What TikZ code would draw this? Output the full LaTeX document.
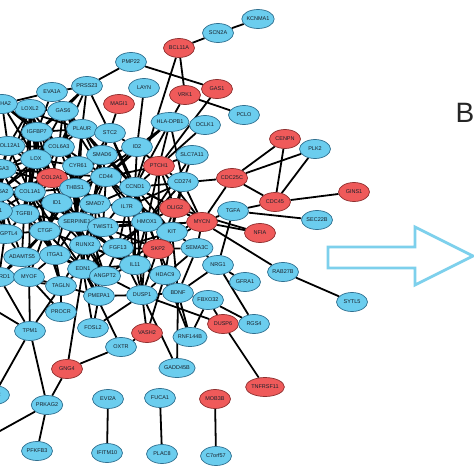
\documentclass[tikz,border=0pt]{standalone}
\usepackage{fontspec}
\setmainfont{Liberation Sans}
\usetikzlibrary{shapes.geometric,backgrounds}
\definecolor{nblue}{HTML}{6BCDEE}
\definecolor{nbord}{HTML}{2F6F8F}
\definecolor{nred}{HTML}{EF5A5A}
\definecolor{rbord}{HTML}{8E2F2F}
\definecolor{ntext}{HTML}{18202A}
\definecolor{arrowc}{HTML}{7DD0EC}
\begin{document}
\begin{tikzpicture}[x=1pt,y=-1pt,
  gene/.style={ellipse,draw=nbord,line width=0.7pt,fill=nblue,minimum width=31pt,minimum height=19pt,inner sep=0pt,font=\fontsize{5.5}{6}\selectfont,text=ntext},
  rgene/.style={gene,fill=nred,draw=rbord},
  link/.style={line width=1.8pt,black}]
\useasboundingbox (0,0) rectangle (474,474);
\clip (0,0) rectangle (474,474);
% nodes
\node[gene] (PMP22) at (131,62) {PMP22};
\node[gene] (LAYN) at (144,88) {LAYN};
\node[rgene] (MAGI1) at (119,104) {MAGI1};
\node[gene] (PRSS23) at (87,86) {PRSS23};
\node[gene] (EVA1A) at (52,92) {EVA1A};
\node[gene] (GAS6) at (63,111) {GAS6};
\node[gene] (LOXL2) at (30,109) {LOXL2};
\node[gene] (EPHA2) at (2,104) {EPHA2};
\node[gene] (KCNMA1) at (258,19) {KCNMA1};
\node[gene] (SCN2A) at (218,33) {SCN2A};
\node[rgene] (BCL11A) at (179,48) {BCL11A};
\node[rgene] (VRK1) at (185,95) {VRK1};
\node[rgene] (GAS1) at (217,89) {GAS1};
\node[gene] (PCLO) at (244,115) {PCLO};
\node[gene] (HLADPB1) at (170,122) {HLA-DPB1};
\node[gene] (DCLK1) at (205,125) {DCLK1};
\node[rgene] (CENPN) at (285,139) {CENPN};
\node[gene] (PLK2) at (315,149) {PLK2};
\node[gene] (SLC7A11) at (192,155) {SLC7A11};
\node[gene] (IGFBP7) at (37,132) {IGFBP7};
\node[gene] (PLAUR) at (82,129) {PLAUR};
\node[gene] (STC2) at (110,133) {STC2};
\node[gene] (ID2) at (137,147) {ID2};
\node[gene] (COL12A1) at (8,146) {COL12A1};
\node[gene] (COL6A3) at (59,147) {COL6A3};
\node[gene] (SMAD6) at (102,155) {SMAD6};
\node[gene] (LOX) at (36,159) {LOX};
\node[gene] (ITGA3) at (1,169) {ITGA3};
\node[gene] (CYR61) at (78,166) {CYR61};
\node[rgene] (COL2A1) at (52,178) {COL2A1};
\node[gene] (CD44) at (106,177) {CD44};
\node[gene] (CCND1) at (135,187) {CCND1};
\node[rgene] (PTCH1) at (159,166) {PTCH1};
\node[gene] (CD274) at (183,182) {CD274};
\node[rgene] (CDC25C) at (232,178) {CDC25C};
\node[rgene] (CDC45) at (275,202) {CDC45};
\node[gene] (COL5A2) at (-2,192) {COL5A2};
\node[gene] (COL1A1) at (30,192) {COL1A1};
\node[gene] (THBS1) at (75,188) {THBS1};
\node[gene] (ID1) at (57,203) {ID1};
\node[gene] (SMAD7) at (95,204) {SMAD7};
\node[gene] (IL7R) at (127,207) {IL7R};
\node[rgene] (OLIG2) at (175,208) {OLIG2};
\node[gene] (TGFA) at (233,211) {TGFA};
\node[gene] (SEC22B) at (317,220) {SEC22B};
\node[rgene] (GINS1) at (354,192) {GINS1};
\node[rgene] (MYCN) at (202,222) {MYCN};
\node[rgene] (NFIA) at (260,233) {NFIA};
\node[gene] (TGFBI) at (24,214) {TGFBI};
\node[gene] (FN1) at (-3,211) {FN1};
\node[gene] (SERPINE1) at (77,222) {SERPINE1};
\node[gene] (TWIST1) at (103,227) {TWIST1};
\node[gene] (HMOX1) at (147,222) {HMOX1};
\node[gene] (KIT) at (172,232) {KIT};
\node[gene] (ANGPTL4) at (5,234) {ANGPTL4};
\node[gene] (CTGF) at (45,231) {CTGF};
\node[gene] (RUNX2) at (85,245) {RUNX2};
\node[gene] (FGF13) at (118,248) {FGF13};
\node[rgene] (SKP2) at (158,249) {SKP2};
\node[gene] (SEMA3C) at (197,248) {SEMA3C};
\node[gene] (ADAMTS5) at (22,257) {ADAMTS5};
\node[gene] (ITGA1) at (55,255) {ITGA1};
\node[gene] (EDN1) at (83,269) {EDN1};
\node[gene] (IL11) at (135,265) {IL11};
\node[gene] (HDAC9) at (165,275) {HDAC9};
\node[gene] (NRG1) at (218,265) {NRG1};
\node[gene] (RAB27B) at (283,272) {RAB27B};
\node[gene] (GFRA1) at (245,282) {GFRA1};
\node[gene] (ANGPT2) at (105,276) {ANGPT2};
\node[gene] (ANKRD1) at (-1,277) {ANKRD1};
\node[gene] (MYOF) at (29,277) {MYOF};
\node[gene] (TAGLN) at (61,286) {TAGLN};
\node[gene] (PMEPA1) at (99,296) {PMEPA1};
\node[gene] (DUSP1) at (142,295) {DUSP1};
\node[gene] (BDNF) at (178,293) {BDNF};
\node[gene] (FBXO32) at (208,300) {FBXO32};
\node[gene] (SYTL5) at (352,302) {SYTL5};
\node[gene] (PROCR) at (61,312) {PROCR};
\node[gene] (TPM1) at (30,331) {TPM1};
\node[gene] (FOSL2) at (93,328) {FOSL2};
\node[rgene] (VASH2) at (147,333) {VASH2};
\node[gene] (OXTR) at (121,347) {OXTR};
\node[rgene] (DUSP6) at (223,324) {DUSP6};
\node[gene] (RGS4) at (254,324) {RGS4};
\node[gene] (RNF144B) at (190,337) {RNF144B};
\node[gene] (GADD45B) at (177,368) {GADD45B};
\node[rgene] (GNG4) at (67,369) {GNG4};
\node[rgene] (TNFRSF11) at (265,387) {TNFRSF11};
\node[gene] (FHL2) at (-6,395) {FHL2};
\node[gene] (PRKAG2) at (47,405) {PRKAG2};
\node[gene] (EVI2A) at (108,399) {EVI2A};
\node[gene] (FUCA1) at (160,398) {FUCA1};
\node[rgene] (MOB3B) at (215,399) {MOB3B};
\node[gene] (PFKFB3) at (37,451) {PFKFB3};
\node[gene] (IFITM10) at (107,453) {IFITM10};
\node[gene] (PLAC8) at (162,454) {PLAC8};
\node[gene] (C7orf57) at (216,456) {C7orf57};
\coordinate (offA) at (-20,442);
\coordinate (offB) at (-25,298);
% label and arrow
\node[font=\fontsize{28}{30}\selectfont,text=black!85] (Blabel) at (465,113) {B};
\draw[arrowc,line width=2.8pt,fill=white] (328,247) -- (415,247) -- (415,227) -- (473,256) -- (415,285) -- (415,268) -- (328,268) -- cycle;
% edges
\begin{scope}[on background layer]
\clip (0,0) rectangle (474,474);
\fill[white] (0,0) rectangle (474,474);
\foreach \a/\b in {KCNMA1/SCN2A, SCN2A/BCL11A, BCL11A/VRK1, BCL11A/CCND1, PMP22/GAS1, PMP22/PRSS23, VRK1/PCLO, VRK1/HLADPB1, GAS1/PTCH1, DCLK1/PTCH1, HLADPB1/CD274, HLADPB1/CD44, HLADPB1/PTCH1, LAYN/ID2, MAGI1/SMAD6, CENPN/CDC25C, CENPN/CDC45, PLK2/CDC25C, PLK2/CDC45, CDC25C/CDC45, CDC25C/CCND1, CDC25C/MYCN, CDC45/GINS1, CDC45/TGFA, TGFA/SEC22B, TGFA/MYCN, TGFA/NRG1, MYCN/NFIA, OLIG2/NFIA, MYCN/RAB27B, RAB27B/SYTL5, NRG1/GFRA1, NRG1/RGS4, NRG1/SEMA3C, NRG1/BDNF, FBXO32/RGS4, FBXO32/RNF144B, FBXO32/DUSP6, BDNF/RNF144B, BDNF/GADD45B, DUSP1/GADD45B, DUSP6/TNFRSF11, DUSP1/DUSP6, VASH2/OXTR, VASH2/DUSP1, VASH2/HDAC9, OXTR/GNG4, OXTR/EDN1, FOSL2/DUSP1, FOSL2/PMEPA1, GNG4/EDN1, GNG4/PRKAG2, PRKAG2/TPM1, PRKAG2/PFKFB3, PRKAG2/offA, TPM1/FHL2, TPM1/TAGLN, TPM1/MYOF, TPM1/ANKRD1, TPM1/offB, EVI2A/IFITM10, FUCA1/PLAC8, MOB3B/C7orf57, SLC7A11/CD274, SLC7A11/HMOX1,
EPHA2/LOXL2, EPHA2/IGFBP7, EPHA2/COL12A1, EPHA2/LOX, EPHA2/CD44, EPHA2/EVA1A, EPHA2/PLAUR,
LOXL2/LOX, LOXL2/COL1A1, LOXL2/IGFBP7, LOXL2/COL12A1, LOXL2/GAS6, LOXL2/COL6A3, LOXL2/COL5A2, LOXL2/SERPINE1, LOXL2/TGFBI, LOXL2/COL2A1,
EVA1A/PRSS23, EVA1A/IGFBP7, EVA1A/PLAUR,
GAS6/PRSS23, GAS6/PLAUR, GAS6/IGFBP7, GAS6/COL6A3, GAS6/CD44, GAS6/THBS1, GAS6/LOX, GAS6/SERPINE1,
PRSS23/PLAUR, PRSS23/STC2, PRSS23/IGFBP7, PRSS23/COL6A3,
PLAUR/STC2, PLAUR/SERPINE1, PLAUR/CD44, PLAUR/THBS1, PLAUR/CYR61, PLAUR/COL6A3, PLAUR/ITGA3, PLAUR/IGFBP7, PLAUR/SMAD6, PLAUR/CCND1,
STC2/SMAD6, STC2/CCND1, STC2/CTGF, STC2/ID2, STC2/HMOX1,
IGFBP7/COL12A1, IGFBP7/COL6A3, IGFBP7/LOX, IGFBP7/CYR61, IGFBP7/CTGF, IGFBP7/TGFBI, IGFBP7/COL1A1,
COL12A1/LOX, COL12A1/COL1A1, COL12A1/COL5A2, COL12A1/COL6A3, COL12A1/ITGA3, COL12A1/COL2A1,
COL6A3/LOX, COL6A3/COL1A1, COL6A3/COL5A2, COL6A3/CYR61, COL6A3/THBS1, COL6A3/COL2A1,
SMAD6/SMAD7, SMAD6/ID1, SMAD6/ID2, SMAD6/CD44, SMAD6/CCND1, SMAD6/RUNX2, SMAD6/SERPINE1,
LOX/COL1A1, LOX/COL2A1, LOX/COL5A2, LOX/ITGA3, LOX/CYR61, LOX/THBS1, LOX/CTGF,
ITGA3/COL1A1, ITGA3/COL5A2, ITGA3/THBS1, ITGA3/CD44, ITGA3/TGFBI, ITGA3/ANGPTL4,
CYR61/CTGF, CYR61/THBS1, CYR61/CD44, CYR61/SERPINE1, CYR61/ITGA1, CYR61/ID1, CYR61/COL1A1,
COL2A1/COL1A1, COL2A1/COL5A2, COL2A1/THBS1, COL2A1/RUNX2, COL2A1/ID1, COL2A1/TGFBI,
CD44/CCND1, CD44/SERPINE1, CD44/HMOX1, CD44/IL7R, CD44/TWIST1, CD44/KIT, CD44/THBS1, CD44/SMAD7, CD44/PTCH1,
CCND1/SKP2, CCND1/IL7R, CCND1/HMOX1, CCND1/MYCN, CCND1/PTCH1, CCND1/TWIST1, CCND1/DUSP1, CCND1/IL11, CCND1/KIT, CCND1/ID2, CCND1/OLIG2,
COL5A2/COL1A1, COL5A2/TGFBI, COL5A2/ANGPTL4, COL5A2/ADAMTS5,
COL1A1/ID1, COL1A1/TGFBI, COL1A1/CTGF, COL1A1/SERPINE1, COL1A1/RUNX2, COL1A1/THBS1, COL1A1/ITGA1, COL1A1/TAGLN, COL1A1/MYOF, COL1A1/EDN1,
THBS1/ID1, THBS1/SMAD7, THBS1/SERPINE1, THBS1/CTGF, THBS1/TGFBI, THBS1/ANGPT2, THBS1/EDN1, THBS1/HMOX1,
ID1/SMAD7, ID1/SERPINE1, ID1/TWIST1, ID1/RUNX2, ID1/CTGF, ID1/ID2, ID1/IL11,
SMAD7/SERPINE1, SMAD7/TWIST1, SMAD7/IL7R, SMAD7/CCND1, SMAD7/RUNX2, SMAD7/PMEPA1,
IL7R/HMOX1, IL7R/IL11, IL7R/KIT, IL7R/CD274, IL7R/FGF13,
TGFBI/CTGF, TGFBI/SERPINE1, TGFBI/ANGPTL4, TGFBI/ADAMTS5, TGFBI/ITGA1, TGFBI/FN1,
FN1/COL1A1, FN1/ANGPTL4, FN1/COL5A2,
SERPINE1/CTGF, SERPINE1/TWIST1, SERPINE1/RUNX2, SERPINE1/HMOX1, SERPINE1/EDN1, SERPINE1/ANGPT2, SERPINE1/ITGA1, SERPINE1/IL11, SERPINE1/PMEPA1,
TWIST1/RUNX2, TWIST1/HMOX1, TWIST1/FGF13, TWIST1/IL11, TWIST1/MYCN, TWIST1/SKP2, TWIST1/EDN1,
HMOX1/KIT, HMOX1/SKP2, HMOX1/OLIG2, HMOX1/IL11, HMOX1/DUSP1, HMOX1/FGF13, HMOX1/EDN1, HMOX1/PTCH1,
ANGPTL4/CTGF, ANGPTL4/ADAMTS5, ANGPTL4/ANKRD1,
CTGF/ITGA1, CTGF/RUNX2, CTGF/ADAMTS5, CTGF/EDN1, CTGF/ANKRD1, CTGF/MYOF, CTGF/TAGLN,
RUNX2/FGF13, RUNX2/ITGA1, RUNX2/EDN1, RUNX2/ANGPT2, RUNX2/IL11, RUNX2/HDAC9, RUNX2/TAGLN,
FGF13/IL11, FGF13/SKP2, FGF13/KIT, FGF13/ANGPT2, FGF13/DUSP1, FGF13/BDNF,
ADAMTS5/ITGA1, ADAMTS5/MYOF, ADAMTS5/ANKRD1,
ITGA1/EDN1, ITGA1/MYOF, ITGA1/TAGLN, ITGA1/ANGPT2,
EDN1/ANGPT2, EDN1/TAGLN, EDN1/PMEPA1, EDN1/IL11, EDN1/FOSL2,
IL11/ANGPT2, IL11/DUSP1, IL11/HDAC9, IL11/SKP2, IL11/KIT,
ANGPT2/PMEPA1, ANGPT2/DUSP1, ANGPT2/KIT,
ANKRD1/MYOF, ANKRD1/TAGLN, MYOF/TAGLN, MYOF/PROCR, TAGLN/PMEPA1, TAGLN/PROCR,
PMEPA1/DUSP1, DUSP1/HDAC9, DUSP1/BDNF,
PTCH1/CD274, PTCH1/OLIG2, PTCH1/MYCN, PTCH1/SKP2, PTCH1/SLC7A11, PTCH1/ID2,
CD274/OLIG2, CD274/KIT, CD274/HMOX1, CD274/MYCN,
OLIG2/MYCN, OLIG2/KIT, OLIG2/SKP2,
MYCN/KIT, MYCN/SKP2, MYCN/SEMA3C,
KIT/SKP2, KIT/SEMA3C, KIT/HDAC9, KIT/BDNF,
SKP2/SEMA3C, SKP2/HDAC9, SKP2/BDNF, SKP2/DUSP1,
SEMA3C/HDAC9, SEMA3C/BDNF, HDAC9/BDNF, HDAC9/RNF144B, BDNF/FBXO32,
ID2/CD44, ID2/HLADPB1, HLADPB1/CCND1}
  \draw[link] (\a) -- (\b);
\end{scope}
\end{tikzpicture}
\end{document}
